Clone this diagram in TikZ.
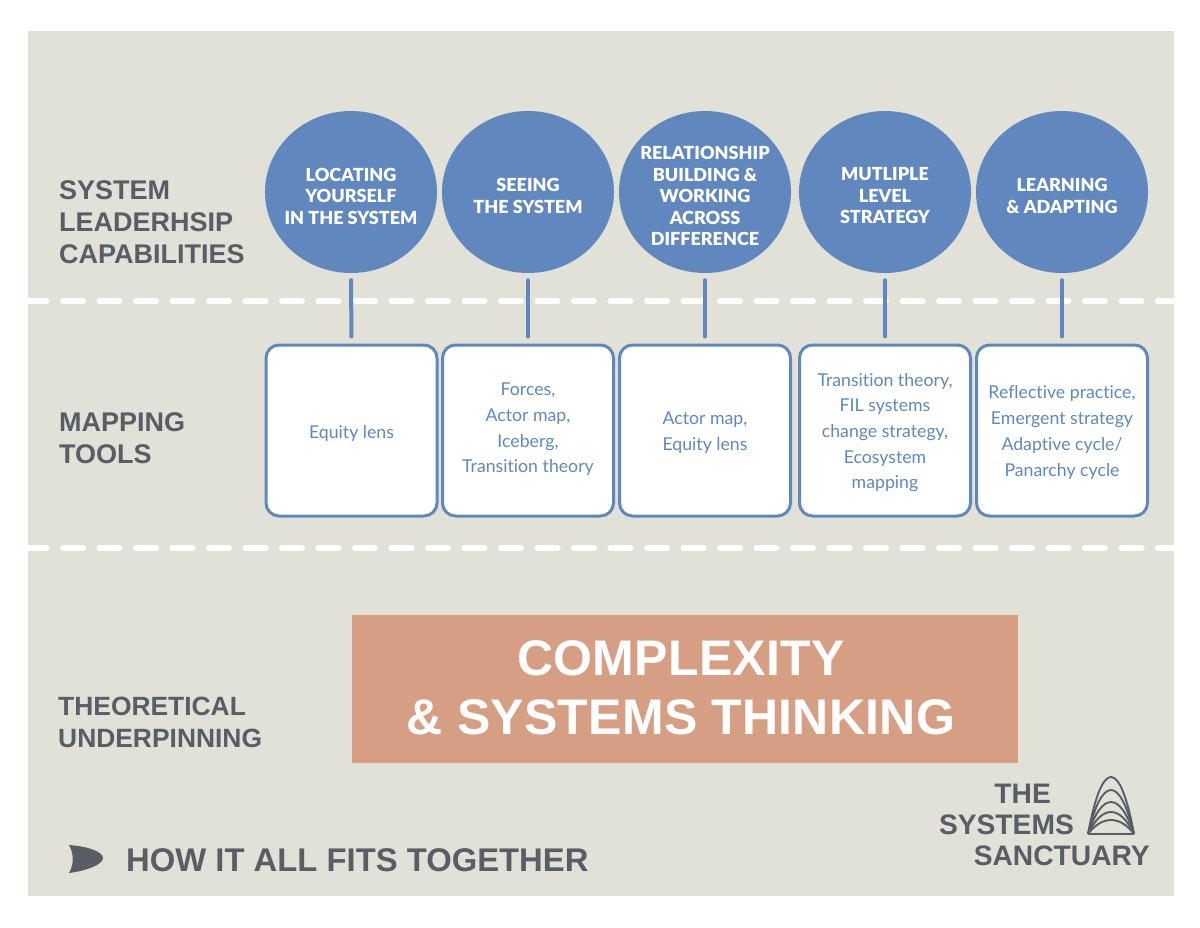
\documentclass[tikz,border=0pt]{standalone}
\usepackage{fontspec}
\setmainfont[Ligatures=NoCommon]{Lato}
\newfontfamily\capfont{Lato Black}
\newfontfamily\headfont{Liberation Sans}
\usetikzlibrary{shapes.geometric}
\definecolor{panelcol}{HTML}{E1E1D7}
\definecolor{bluecol}{HTML}{6088BF}
\definecolor{slatecol}{HTML}{585D66}
\definecolor{salmoncol}{HTML}{D69F84}
\begin{document}
\begin{tikzpicture}[
            x=1pt,
            y=-1pt,
            capability/.style={ellipse, fill=bluecol, minimum width=172pt, minimum height=162pt, inner sep=0pt},
            captext/.style={text=white, inner sep=0pt, align=center, yshift=-4pt, font=\fontsize{18}{21.5}\capfont},
            tool/.style={draw=bluecol, line width=3pt, fill=white, rounded corners=13pt, minimum width=171pt, minimum height=171pt, inner sep=0pt},
            tooltext/.style={inner sep=0pt, align=center, text=bluecol, font=\fontsize{17.7}{25.7}\selectfont},
            link/.style={draw=bluecol, line width=4pt, line cap=round, shorten >=7pt, shorten <=7pt},
            divider/.style={draw=white, line width=6pt, line cap=round, dash pattern=on 20pt off 16.5pt},
            rowlabel/.style={anchor=west, align=left, text=slatecol, inner sep=0pt, font=\fontsize{27}{32}\headfont\bfseries},
            logotext/.style={anchor=east, text=slatecol, inner sep=0pt, font=\fontsize{28.2}{34}\headfont\bfseries},
            arch/.style={draw=slatecol, line width=1.9pt},
        ]
        \useasboundingbox (0,0) rectangle (1200,927);
        \fill[white] (0,0) rectangle (1200,927);
        \fill[panelcol] (28,31) rectangle (1174,896);
        % DIVIDERS
        \draw[divider] (26.5,301) -- (1180,301);
        \draw[divider] (26.5,548) -- (1180,548);
        % CAPABILITIES
        \node[capability] (c1) at (351,192) {};
        \node[capability] (c2) at (528,192) {};
        \node[capability] (c3) at (705,192) {};
        \node[capability] (c4) at (885,192) {};
        \node[capability] (c5) at (1062,192) {};
        \node[captext] (cl1) at (c1) {LOCATING\\YOURSELF\\IN THE SYSTEM};
        \node[captext] (cl2) at (c2) {SEEING\\THE SYSTEM};
        \node[captext] (cl3) at (c3) {RELATIONSHIP\\BUILDING \&\\WORKING\\ACROSS\\DIFFERENCE};
        \node[captext] (cl4) at (c4) {MUTLIPLE\\LEVEL\\STRATEGY};
        \node[captext] (cl5) at (c5) {LEARNING\\\& ADAPTING};
        % TOOLS
        \node[tool] (t1) at (351.5,430.5) {};
        \node[tool] (t2) at (528,430.5) {};
        \node[tool] (t3) at (705,430.5) {};
        \node[tool] (t4) at (885,430.5) {};
        \node[tool] (t5) at (1062,430.5) {};
        \node[tooltext] (tl1) at (351.5,433.5) {Equity lens};
        \node[tooltext] (tl2) at (528,429.5) {Forces,\\Actor map,\\Iceberg,\\Transition theory};
        \node[tooltext] (tl3) at (705,432.5) {Actor map,\\Equity lens};
        \node[tooltext] (tl4) at (885,432.5) {Transition theory,\\FIL systems\\change strategy,\\Ecosystem\\mapping};
        \node[tooltext] (tl5) at (1062,432.5) {Reflective practice,\\Emergent strategy\\Adaptive cycle/\\Panarchy cycle};
        \foreach \i in {1,...,5} {
            \draw[link] (c\i) -- (t\i);
        }
        % ROW LABELS
        \node[rowlabel] (lead) at (59,222) {SYSTEM\\LEADERHSIP\\CAPABILITIES};
        \node[rowlabel] (maps) at (59,438) {MAPPING\\TOOLS};
        \node[rowlabel, font=\fontsize{26.4}{32}\headfont\bfseries] (theory) at (58,722) {THEORETICAL\\UNDERPINNING};
        % COMPLEXITY
        \node[fill=salmoncol, minimum width=666pt, minimum height=148pt, inner sep=0pt] (core) at (685,689) {};
        \node[text=white, inner sep=0pt, align=center, font=\fontsize{50}{59}\headfont\bfseries\addfontfeatures{LetterSpace=0.5}] (coretext) at (681,688) {COMPLEXITY\\\& SYSTEMS THINKING};
        % FOOTER
        \fill[slatecol] (69,845) .. controls (85,846) and (103,851) .. (103,858) .. controls (103,865) and (85,871) .. (69,873) .. controls (74,864) and (74,854) .. (69,845) -- cycle;
        \node[anchor=west, text=slatecol, inner sep=0pt, font=\fontsize{32.8}{40}\headfont\bfseries] (howit) at (126,860) {HOW IT ALL FITS TOGETHER};
        % LOGO
        \node[logotext] (the) at (1051,794) {THE};
        \node[logotext] (systems) at (1074,825) {SYSTEMS};
        \node[logotext] (sanctuary) at (1150,856) {SANCTUARY};
        \draw[arch] (1088,834) -- (1134,834);
        \foreach \p in {777,790,802,812,820} {
            \draw[arch] (1088,834) .. controls (1102,{834-(834-\p)*4/3}) and (1120,{834-(834-\p)*4/3}) .. (1134,834);
        }
\end{tikzpicture}
\end{document}
